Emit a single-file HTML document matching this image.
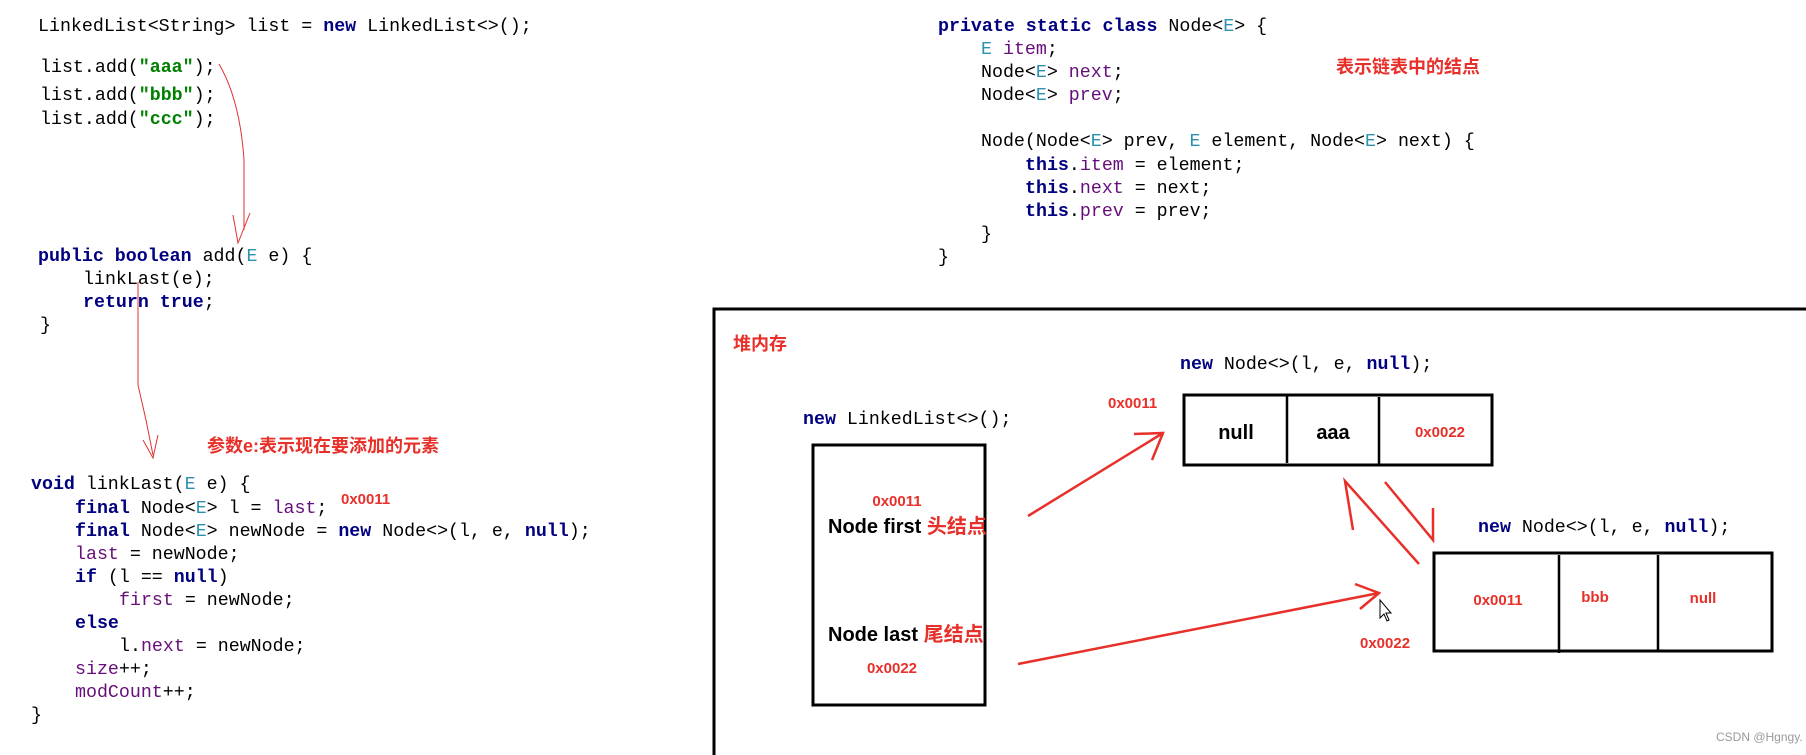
<!DOCTYPE html>
<html><head><meta charset="utf-8"><style>
html,body{margin:0;padding:0;background:#fff;width:1806px;height:755px;overflow:hidden}
svg{display:block}
.c{font-family:"Liberation Mono",monospace;font-size:18.3px;fill:#000}
.k{fill:#000080;font-weight:bold}
.s{fill:#008000;font-weight:bold}
.t{fill:#2b91af}
.f{fill:#660e7a}
.r{font-family:"Liberation Sans","Noto Sans CJK SC",sans-serif;fill:#e8302a;font-weight:bold}
.b{font-family:"Liberation Sans","Noto Sans CJK SC",sans-serif;fill:#000;font-weight:bold}
</style></head><body>
<svg width="1806" height="755" xmlns="http://www.w3.org/2000/svg">
<g class="c">
<text x="38" y="31">LinkedList&lt;String&gt; list = <tspan class="k">new</tspan> LinkedList&lt;&gt;();</text>
<text x="40" y="72">list.add(<tspan class="s">"aaa"</tspan>);</text>
<text x="40" y="100">list.add(<tspan class="s">"bbb"</tspan>);</text>
<text x="40" y="124">list.add(<tspan class="s">"ccc"</tspan>);</text>
<text x="38" y="261"><tspan class="k">public boolean</tspan> add(<tspan class="t">E</tspan> e) {</text>
<text x="83" y="284">linkLast(e);</text>
<text x="83" y="307"><tspan class="k">return true</tspan>;</text>
<text x="40" y="330">}</text>
<text x="31" y="489"><tspan class="k">void</tspan> linkLast(<tspan class="t">E</tspan> e) {</text>
<text x="75" y="513"><tspan class="k">final</tspan> Node&lt;<tspan class="t">E</tspan>&gt; l = <tspan class="f">last</tspan>;</text>
<text x="75" y="536"><tspan class="k">final</tspan> Node&lt;<tspan class="t">E</tspan>&gt; newNode = <tspan class="k">new</tspan> Node&lt;&gt;(l, e, <tspan class="k">null</tspan>);</text>
<text x="75" y="559"><tspan class="f">last</tspan> = newNode;</text>
<text x="75" y="582"><tspan class="k">if</tspan> (l == <tspan class="k">null</tspan>)</text>
<text x="119" y="605"><tspan class="f">first</tspan> = newNode;</text>
<text x="75" y="628"><tspan class="k">else</tspan></text>
<text x="119" y="651">l.<tspan class="f">next</tspan> = newNode;</text>
<text x="75" y="674"><tspan class="f">size</tspan>++;</text>
<text x="75" y="697"><tspan class="f">modCount</tspan>++;</text>
<text x="31" y="720">}</text>

<text x="938" y="31"><tspan class="k">private static class</tspan> Node&lt;<tspan class="t">E</tspan>&gt; {</text>
<text x="981" y="54"><tspan class="t">E</tspan> <tspan class="f">item</tspan>;</text>
<text x="981" y="77">Node&lt;<tspan class="t">E</tspan>&gt; <tspan class="f">next</tspan>;</text>
<text x="981" y="100">Node&lt;<tspan class="t">E</tspan>&gt; <tspan class="f">prev</tspan>;</text>
<text x="981" y="146">Node(Node&lt;<tspan class="t">E</tspan>&gt; prev, <tspan class="t">E</tspan> element, Node&lt;<tspan class="t">E</tspan>&gt; next) {</text>
<text x="1025" y="170"><tspan class="k">this</tspan>.<tspan class="f">item</tspan> = element;</text>
<text x="1025" y="193"><tspan class="k">this</tspan>.<tspan class="f">next</tspan> = next;</text>
<text x="1025" y="216"><tspan class="k">this</tspan>.<tspan class="f">prev</tspan> = prev;</text>
<text x="981" y="239">}</text>
<text x="938" y="262">}</text>

<text x="1180" y="369"><tspan class="k">new</tspan> Node&lt;&gt;(l, e, <tspan class="k">null</tspan>);</text>
<text x="803" y="424"><tspan class="k">new</tspan> LinkedList&lt;&gt;();</text>
<text x="1478" y="532"><tspan class="k">new</tspan> Node&lt;&gt;(l, e, <tspan class="k">null</tspan>);</text>
</g>

<text class="r" x="1336" y="73" font-size="18">表示链表中的结点</text>
<text class="r" x="207" y="452" font-size="18">参数e:表示现在要添加的元素</text>
<text class="r" x="341" y="504" font-size="15">0x0011</text>

<path d="M219 64 Q240 100 244 160 L244 230" stroke="#d33" stroke-width="1" fill="none"/>
<path d="M233 215 L238 243 L250 213" stroke="#d33" stroke-width="1" fill="none"/>
<path d="M138 282 L138 385 L146 420 L153 455" stroke="#d33" stroke-width="1" fill="none"/>
<path d="M143 440 L153 458 L158 435" stroke="#d33" stroke-width="1" fill="none"/>

<rect x="714" y="309" width="1100" height="460" fill="none" stroke="#000" stroke-width="3"/>
<text class="r" x="733" y="350" font-size="18">堆内存</text>
<text class="r" x="1108" y="408" font-size="15">0x0011</text>

<rect x="1184" y="395" width="308" height="70" fill="none" stroke="#000" stroke-width="3"/>
<line x1="1287" y1="395" x2="1287" y2="463" stroke="#000" stroke-width="2.5"/>
<line x1="1379" y1="397" x2="1379" y2="465" stroke="#000" stroke-width="2.5"/>
<text class="b" x="1236" y="439" font-size="20" text-anchor="middle">null</text>
<text class="b" x="1333" y="439" font-size="20" text-anchor="middle">aaa</text>
<text class="r" x="1440" y="437" font-size="15" text-anchor="middle">0x0022</text>

<rect x="813" y="445" width="172" height="260" fill="none" stroke="#000" stroke-width="3"/>
<text class="r" x="897" y="506" font-size="15" text-anchor="middle">0x0011</text>
<text class="b" x="828" y="533" font-size="20">Node first <tspan class="r">头结点</tspan></text>
<text class="b" x="828" y="641" font-size="20">Node last  <tspan class="r">尾结点</tspan></text>
<text class="r" x="892" y="673" font-size="15" text-anchor="middle">0x0022</text>

<rect x="1434" y="553" width="338" height="98" fill="none" stroke="#000" stroke-width="3"/>
<line x1="1559" y1="555" x2="1559" y2="653" stroke="#000" stroke-width="2.5"/>
<line x1="1658" y1="555" x2="1658" y2="651" stroke="#000" stroke-width="2.5"/>
<text class="r" x="1498" y="605" font-size="15" text-anchor="middle">0x0011</text>
<text class="r" x="1595" y="602" font-size="15" text-anchor="middle">bbb</text>
<text class="r" x="1703" y="603" font-size="15" text-anchor="middle">null</text>
<text class="r" x="1360" y="648" font-size="15">0x0022</text>

<g stroke="#e8302a" stroke-width="2.5" fill="none">
<path d="M1028 516 L1163 433"/><path d="M1134 434 L1163 433 L1152 460"/>
<path d="M1018 664 L1379 593"/><path d="M1355 584 L1379 593 L1360 609"/>
<path d="M1419 564 L1345 481 L1353 530"/>
<path d="M1385 482 L1433 540 L1433 508"/>
</g>
<path d="M1380 600 l0 18 l4 -4 l3 7 l2 -1 l-3 -7 l5 0 z" fill="#fff" stroke="#000" stroke-width="1"/>
<text x="1716" y="741" font-family="Liberation Sans,sans-serif" font-size="12" fill="#999">CSDN @Hgngy.</text>
</svg>
</body></html>
